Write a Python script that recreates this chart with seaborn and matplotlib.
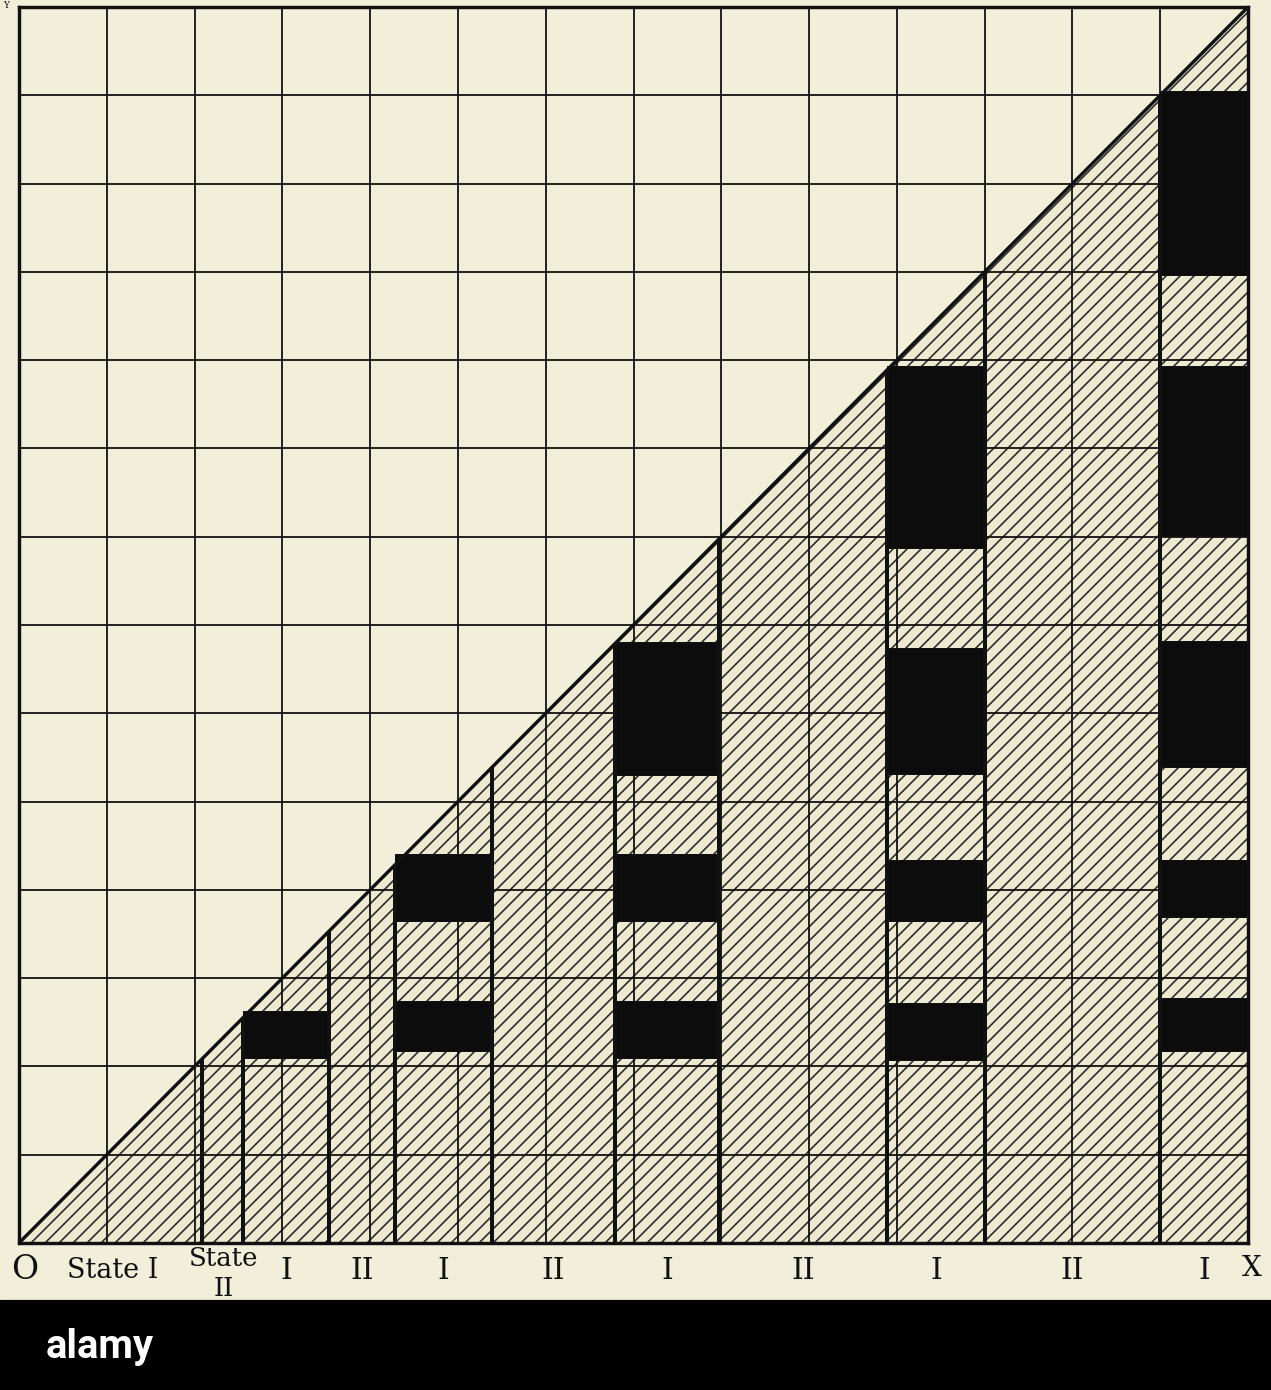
import matplotlib
matplotlib.use("Agg")
import matplotlib.pyplot as plt
from matplotlib.patches import Rectangle
import seaborn as sns
import pandas as pd

# ---------------- data ----------------
n_cells = 14
# right edges of the successive strips along the X axis (grid units)
boundaries = [2.08, 2.55, 3.53, 4.28, 5.39, 6.79, 7.97, 9.89, 11.0, 13.0, 14.0]
region_labels = ["State I", "State II", "I", "II", "I", "II", "I", "II", "I", "II", "I"]

# black blocks: which strip they sit in, and their bottom / top (grid units)
bar_region = [2, 4, 4, 6, 6, 6, 8, 8, 8, 8, 10, 10, 10, 10, 10]
bar_bottom = [2.09, 2.18, 3.65, 2.09, 3.65, 5.30, 2.07, 3.65, 5.31, 7.87, 2.17, 3.69, 5.39, 8.01, 10.97]
bar_top = [2.63, 2.74, 4.41, 2.74, 4.41, 6.81, 2.72, 4.34, 6.74, 9.93, 2.78, 4.34, 6.82, 9.93, 13.05]

diag_x = [0, n_cells]
diag_y = [0, n_cells]

# ---------------- style ----------------
DPI = 84
pt = lambda px: px * 72.0 / DPI   # pixel sizes -> points

cream = "#f1eed9"
ink = "#111111"
sns.set_theme(style="white")
plt.rcParams["font.family"] = ["DejaVu Serif", "DejaVu Sans"]
plt.rcParams["hatch.linewidth"] = pt(1.6)
plt.rcParams["hatch.color"] = "#262626"

W, H = 1271, 1390
fig = plt.figure(figsize=(W / DPI, H / DPI), dpi=DPI, facecolor=cream)
L, R, T, B = 19, 1248, 7, 1243
ax = fig.add_axes([L / W, (H - B) / H, (R - L) / W, (B - T) / H])
ax.set_facecolor(cream)
ax.set_xlim(0, n_cells)
ax.set_ylim(0, n_cells)

# hatched triangle under the diagonal
ax.fill_between(diag_x, 0, diag_y, facecolor="#eeead2", edgecolor="#262626",
                hatch="//", linewidth=0, zorder=1)

# grid
ax.vlines(range(1, n_cells), 0, n_cells, color=ink, lw=pt(1.8), zorder=2)
ax.hlines(range(1, n_cells), 0, n_cells, color=ink, lw=pt(1.8), zorder=2)

# black blocks
starts = [0.0] + boundaries[:-1]
bars = pd.DataFrame({
    "left": [starts[i] for i in bar_region],
    "right": [boundaries[i] for i in bar_region],
    "bottom": bar_bottom,
    "top": bar_top,
})
ax.bar(bars["left"], bars["top"] - bars["bottom"], width=bars["right"] - bars["left"],
       bottom=bars["bottom"], align="edge", color="#0c0c0c", edgecolor=ink,
       linewidth=pt(1), zorder=3)

# thick strip boundaries rising to the diagonal
ax.vlines(boundaries[:-1], 0, boundaries[:-1], color=ink, lw=pt(4), zorder=4)

# diagonal
sns.lineplot(x=diag_x, y=diag_y, ax=ax, color=ink, lw=pt(3.4), zorder=5)

for s in ax.spines.values():
    s.set_color(ink)
    s.set_linewidth(pt(3.4))
    s.set_zorder(6)
ax.set_xticks([])
ax.set_yticks([])

# ---------------- labels ----------------
py = lambda p: (B - p) / ((B - T) / n_cells)
ax.text(0.06, py(1270), "O", ha="center", va="center", fontsize=pt(33), color=ink, clip_on=False)
centers = [(s + e) / 2 for s, e in zip(starts, boundaries)]
for c, lab in zip(centers, region_labels):
    if lab == "State I":
        ax.text(1.07, py(1270), "State I", ha="center", va="center", fontsize=pt(27),
                color=ink, clip_on=False)
    elif lab == "State II":
        ax.text(c + 0.02, py(1259), "State", ha="center", va="center", fontsize=pt(26),
                color=ink, clip_on=False)
        ax.text(c + 0.02, py(1289), "II", ha="center", va="center", fontsize=pt(26),
                color=ink, clip_on=False)
    else:
        ax.text(c, py(1271), lab, ha="center", va="center", fontsize=pt(30),
                color=ink, clip_on=False)
ax.text(14.04, py(1268), "X", ha="center", va="center", fontsize=pt(28), color=ink, clip_on=False)
fig.text(3 / W, 1.0 - 1 / H, "Y", ha="left", va="top", fontsize=pt(9), color=ink)

# bottom black strip
fig.add_artist(Rectangle((0, 0), 1, 90 / H, transform=fig.transFigure,
                         color="black", zorder=10))
fig.text(100 / W, (H - 1347) / H, "alamy", ha="center", va="center", color="white",
         fontsize=pt(40), fontweight="bold", family=["Roboto", "DejaVu Sans"], zorder=11)

fig.savefig("out.png", dpi=DPI, facecolor=cream)
